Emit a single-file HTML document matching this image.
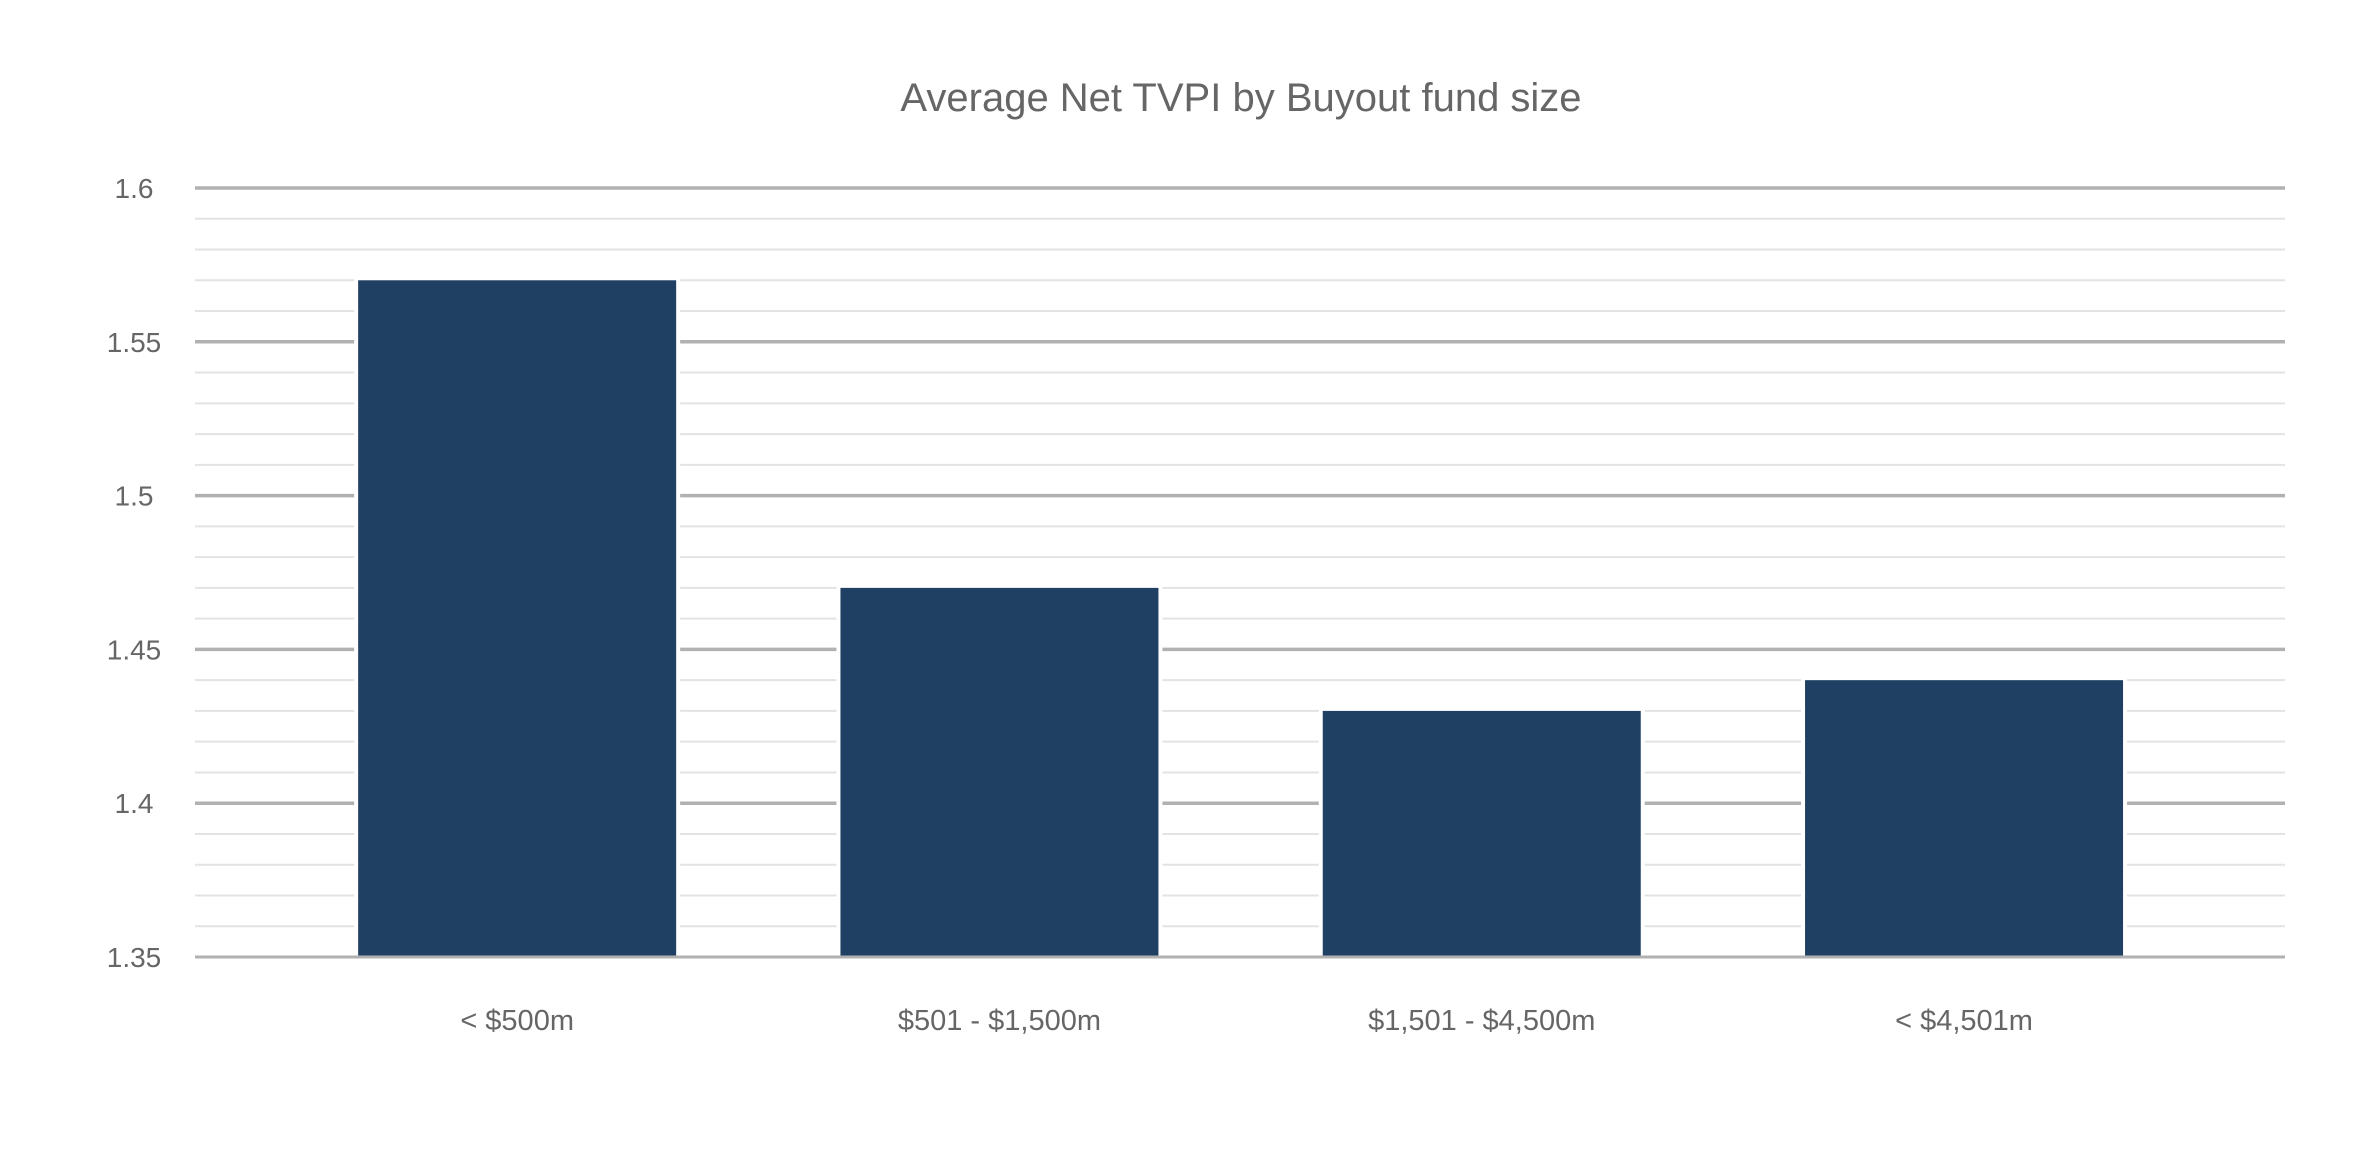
<!DOCTYPE html>
<html><head><meta charset="utf-8"><style>
html,body{margin:0;padding:0;background:#fff;}
svg{display:block;font-family:"Liberation Sans",sans-serif;}
</style></head><body>
<svg id="chart" width="2364" height="1152" viewBox="0 0 2364 1152" xmlns="http://www.w3.org/2000/svg">
<text x="1241" y="111" text-anchor="middle" font-size="40" fill="#666">Average Net TVPI by Buyout fund size</text>
<g id="grid"></g>
<g id="bars"></g>
<g id="yticks"></g>
<g id="xticks"></g>
</svg>
<script>
const categories = ["< $500m", "$501 - $1,500m", "$1,501 - $4,500m", "< $4,501m"];
const values = [1.57, 1.47, 1.43, 1.44];
const yTicks = [1.35, 1.4, 1.45, 1.5, 1.55, 1.6];
const yTickLabels = ["1.35", "1.4", "1.45", "1.5", "1.55", "1.6"];

const NS = "http://www.w3.org/2000/svg";
const yMin = 1.35, yMax = 1.6, yTop = 188, yBot = 957;
function y(v){ return yBot - (v - yMin) / (yMax - yMin) * (yBot - yTop); }
const bandStart = 276, bandStep = 482.3, barW = 318;
function xc(i){ return bandStart + bandStep * (i + 0.5); }
const gx0 = 195, gx1 = 2285;

function mk(tag, attrs, parent){
  const e = document.createElementNS(NS, tag);
  for (const k in attrs) e.setAttribute(k, attrs[k]);
  parent.appendChild(e);
  return e;
}
const grid = document.getElementById('grid');
for (let k = 0; k <= 25; k++) {
  const v = yMin + k * 0.01;
  if (k % 5 === 0) continue;
  const l = mk('line', {x1: gx0, x2: gx1, y1: y(v), y2: y(v), stroke: '#e3e3e3', 'stroke-width': 2}, grid);
  
  
}
yTicks.forEach((v, i) => {
  if (i === 0) return;
  const l = mk('line', {x1: gx0, x2: gx1, y1: y(v), y2: y(v), stroke: '#b1b1b1', 'stroke-width': 3.5}, grid);
  
  
});
const yt = document.getElementById('yticks');
yTicks.forEach((v, i) => {
  const t = mk('text', {x: 134, y: y(v) + 10, 'text-anchor': 'middle', 'font-size': 28, fill: '#666'}, yt);
  t.textContent = yTickLabels[i];
  
  
});
const bars = document.getElementById('bars');
values.forEach((v, i) => {
  const x = xc(i) - barW / 2;
  const bg = mk('rect', {x: x - 4, y: y(v) - 4, width: barW + 8, height: yBot - y(v) + 4, fill: '#fff'}, bars);
  
  
  const r = mk('rect', {x: x, y: y(v), width: barW, height: yBot - y(v), fill: '#1f4062'}, bars);
  
  
});
const base = mk('line', {x1: gx0, x2: gx1, y1: yBot, y2: yBot, stroke: '#b1b1b1', 'stroke-width': 3}, bars);


const xt = document.getElementById('xticks');
categories.forEach((c, i) => {
  const t = mk('text', {x: xc(i), y: 1030, 'text-anchor': 'middle', 'font-size': 29, fill: '#666'}, xt);
  t.textContent = c;
  
  
});
</script>
</body></html>
